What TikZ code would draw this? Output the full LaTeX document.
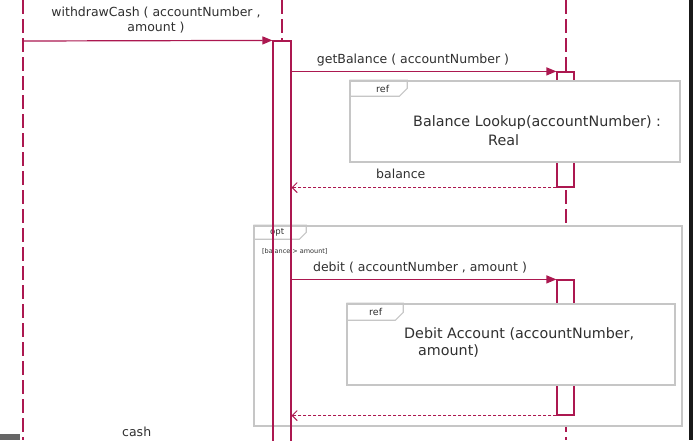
\documentclass[tikz,border=0pt]{standalone}
\usepackage{fontspec}
\setmainfont{DejaVu Sans}
\usetikzlibrary{arrows.meta}
\definecolor{crim}{RGB}{172,24,80}
\definecolor{frm}{RGB}{198,198,198}
\definecolor{txt}{RGB}{48,48,48}
\begin{document}
\begin{tikzpicture}[x=1pt,y=-1pt,
  lifeline/.style={draw=crim, line width=1.2pt, dash pattern=on 14pt off 5pt},
  actbox/.style={draw=crim, line width=1.2pt, minimum width=17pt, inner sep=0pt},
  msg/.style={draw=crim, line width=1.2pt, -{Triangle[length=10pt,width=8pt,fill=crim]}},
  ret/.style={draw=crim, line width=1pt, dash pattern=on 3pt off 2pt, -{Straight Barb[length=5pt,width=10pt,line width=0.9pt]}},
  frame/.style={draw=frm, line width=1.4pt, fill=white, inner sep=0pt},
  tab/.style={draw=frm, line width=1.2pt},
  lbl/.style={text=txt, font=\fontsize{12.5}{15}\selectfont, inner sep=0pt},
  reftxt/.style={text=txt, font=\fontsize{14.3}{17}\selectfont, inner sep=0pt},
  small/.style={text=txt, font=\fontsize{8.5}{10}\selectfont, inner sep=0pt},
  tiny/.style={text=txt, font=\fontsize{6.5}{8}\selectfont, inner sep=0pt}]
\useasboundingbox (0,0) rectangle (693,440);
\clip (0,0) rectangle (693,440);
\fill[white] (0,0) rectangle (693,440);
\fill[black!90] (689,0) rectangle (693,440);
\fill[black!60] (0,434) rectangle (20,440);

% lifelines
\coordinate (LT) at (23,0);
\coordinate (LB) at (23,440);
\coordinate (MT) at (282,0);
\coordinate (RT) at (566,0);
\coordinate (RB) at (566,440);
\draw[lifeline] (LT) -- (LB);
\draw[lifeline] (RT) -- (RB);

% opt frame
\node[frame, minimum width=428pt, minimum height=200pt] (opt) at (468,326) {};
\draw[tab] (opt.north west) -- ++(53,0) -- ++(0,7) -- ++(-7,7) -- ++(-46,0);
\node[small, anchor=west] (optl) at (270,232) {opt};
\node[tiny, anchor=west] (guard) at (262,251) {[balance > amount]};

% activation boxes
\node[actbox, minimum width=18pt, minimum height=404pt] (AM) at (282,243) {};
\draw[lifeline] (MT) -- (AM.north);
\node[actbox, fill=white, minimum height=115pt] (A1) at (565.5,129.5) {};
\node[actbox, fill=white, minimum height=135pt] (A2) at (565.5,347.5) {};

% ref frames
\node[frame, minimum width=330pt, minimum height=81pt] (R1) at (515,121.5) {};
\draw[tab] (R1.north west) -- ++(58,0) -- ++(0,8) -- ++(-8,8) -- ++(-50,0);
\node[small, anchor=west, font=\fontsize{9.5}{11}\selectfont] (r1l) at (376,89) {ref};
\node[reftxt, anchor=west] (r1a) at (413,123) {Balance Lookup(accountNumber) :};
\node[reftxt, anchor=west] (r1b) at (488,140) {Real};

\node[frame, minimum width=328pt, minimum height=81pt] (R2) at (511,344.5) {};
\draw[tab] (R2.north west) -- ++(57,0) -- ++(0,9) -- ++(-8,8) -- ++(-49,0);
\node[small, anchor=west, font=\fontsize{9.5}{11}\selectfont] (r2l) at (369,312) {ref};
\node[reftxt, anchor=west] (r2a) at (404,334) {Debit Account (accountNumber,};
\node[reftxt, anchor=west] (r2b) at (418,351) {amount)};

% messages
\coordinate (W) at (23,41);
\draw[msg] (W) -- (AM.north west);
\node[lbl, align=center] (wl) at (156,20) {withdrawCash ( accountNumber ,\\amount )};

\draw[msg] (AM.east |- A1.north) -- (A1.north west);
\node[lbl] (gl) at (413,60) {getBalance ( accountNumber )};

\draw[ret] (A1.south west) -- (A1.south west -| AM.east);
\node[lbl, anchor=west] (bl) at (376,174) {balance};

\draw[msg] (AM.east |- A2.north) -- (A2.north west);
\node[lbl] (dl) at (420,268) {debit ( accountNumber , amount )};

\draw[ret] (A2.south west) -- (A2.south west -| AM.east);

\node[lbl, anchor=west] (cl) at (122,431.5) {cash};
\end{tikzpicture}
\end{document}
